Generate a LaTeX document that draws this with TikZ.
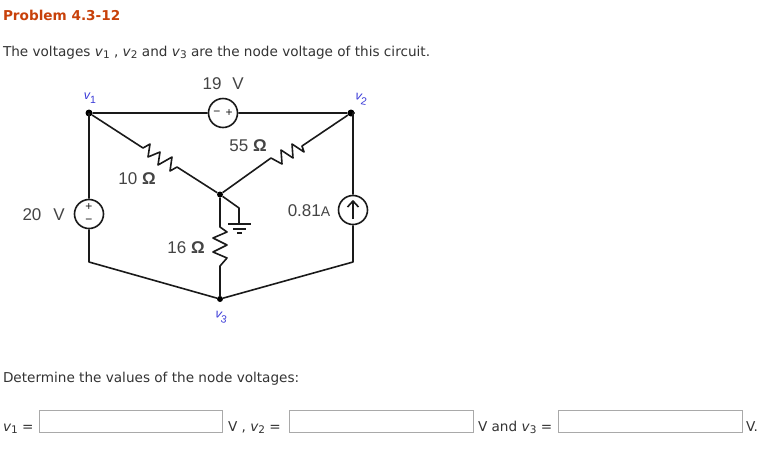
\documentclass[tikz,border=0pt]{standalone}
\usepackage{fontspec}
\setmainfont{DejaVu Sans}
\newfontfamily\lab{Liberation Sans}
\usetikzlibrary{calc}
\definecolor{wire}{HTML}{1A1A1A}
\definecolor{labgray}{HTML}{444444}
\definecolor{vblue}{HTML}{3A3AD8}
\definecolor{titlecol}{HTML}{C8410A}
\definecolor{boxgray}{HTML}{A9A9A9}
\definecolor{txt}{HTML}{333333}
\newcommand{\vv}[1]{\textit{v}\raisebox{-2.5pt}{\fontsize{10.5}{12}\selectfont #1}}
\newcommand{\ohm}{\textbf{Ω}}
\tikzset{
  x=1pt,y=-1pt,
  txtn/.style={anchor=base west,inner sep=0,outer sep=0,text=txt,font=\fontsize{13.6}{15}\selectfont},
  titlen/.style={anchor=base west,inner sep=0,outer sep=0,text=titlecol,font=\fontsize{13.6}{15}\selectfont\bfseries},
  clab/.style={anchor=base,inner sep=0,outer sep=0,text=labgray,font=\lab\fontsize{17}{19}\selectfont},
  vlab/.style={anchor=center,inner sep=0,outer sep=0,text=vblue,font=\lab\fontsize{12.5}{14}\selectfont\itshape},
  wireline/.style={draw=wire,line width=1.6pt,line join=round},
  dotn/.style={circle,fill=black,inner sep=0,minimum size=7pt},
  srcn/.style={circle,draw=wire,line width=1.6pt,fill=white,inner sep=0,minimum size=29pt,text=wire},
  ansbox/.style={draw=boxgray,line width=.9pt,fill=white,anchor=north west,inner sep=0,minimum height=22pt},
  signn/.style={font=\lab\fontsize{12}{12}\selectfont,text=wire,inner sep=0},
}
\begin{document}
\begin{tikzpicture}
\useasboundingbox[fill=white] (0,0) rectangle (773,448);
% text
\node[titlen] (title) at (3,20) {Problem 4.3-12};
\node[txtn] (intro) at (3,56) {The voltages \vv{1} , \vv{2} and \vv{3} are the node voltage of this circuit.};
\node[txtn] (ask) at (3,382) {Determine the values of the node voltages:};
% nodes
\node[dotn] (v1) at (89,113) {};
\node[dotn] (v2) at (351,113) {};
\node[dotn,minimum size=6pt] (c) at (220,194.5) {};
\node[dotn,minimum size=6pt] (v3) at (220,299) {};
\coordinate (bl) at (89,262);
\coordinate (br) at (353,262);
\coordinate (tr) at (353,113);
\coordinate (tl) at (89,113);
\node[srcn] (s19) at (223,113) {};
\node[srcn] (s20) at (89,214) {};
\node[srcn] (s081) at (353,210) {};
% wires
\draw[wireline] (v1) -- (s19) -- (v2) -- (tr) -- (s081) -- (br) -- (v3);
\draw[wireline] (tl) -- (s20) -- (bl) -- (v3);
\draw[wireline] (v1) -- (143,148) -- (150,144) -- (148,157) -- (160,152) -- (158,165) -- (172,157) -- (170,171) -- (177,167) -- (c);
\draw[wireline] (c) -- (271,158) -- (282,164) -- (281,150) -- (293,158) -- (292,144) -- (304,152) -- (302,146) -- (v2);
\draw[wireline] (c) -- (220,227) -- (227,232) -- (213,238) -- (227,245) -- (213,252) -- (227,258) -- (220,266) -- (v3);
% ground
\coordinate (gt) at (239,208);
\coordinate (gb) at (239,224);
\draw[wireline] (c) -- (gt) -- (gb);
\draw[wireline] (228,224) -- (251,224);
\draw[wireline] (233,229) -- (246,229);
\draw[wireline] (237,233) -- (242,233);
% source interiors
\node[signn] (s19m) at (217,113) {−};
\node[signn] (s19p) at (229,113) {+};
\node[signn] (s20p) at (89,207.5) {+};
\node[signn] (s20m) at (89,221.5) {−};
\coordinate (aT) at (353,201);
\coordinate (aB) at (353,219);
\draw[wireline] (aB) -- (aT);
\draw[wireline] (347.5,207) -- (aT) -- (358.5,207);
% labels
\node[clab] (l19) at (212,89) {19};
\node[clab] (l19v) at (238,89) {V};
\node[clab] (l55) at (248,151) {55 \ohm};
\node[clab] (l10) at (137,184) {10 \ohm};
\node[clab] (l20) at (32,220) {20};
\node[clab] (l20v) at (59,220) {V};
\node[clab] (l081) at (309,216) {0.81\fontsize{14}{15}\selectfont A};
\node[clab] (l16) at (186,253) {16 \ohm};
\node[vlab] (n1) at (90,98) {v\raisebox{-4pt}{\upshape\fontsize{10.5}{11}\selectfont 1}};
\node[vlab,rotate=-10] (n2) at (361,99) {v\raisebox{-4pt}{\upshape\fontsize{10.5}{11}\selectfont 2}};
\node[vlab,rotate=-10] (n3) at (221,317) {v\raisebox{-4pt}{\upshape\fontsize{10.5}{11}\selectfont 3}};
% answers
\node[txtn] (a1) at (3,431) {\vv{1} =};
\node[ansbox,minimum width=183pt] (b1) at (39,410) {};
\node[txtn] (a2) at (228,431) {V , \vv{2} =};
\node[ansbox,minimum width=184pt] (b2) at (289,410) {};
\node[txtn] (a3) at (478,431) {V and \vv{3} =};
\node[ansbox,minimum width=184pt] (b3) at (558,410) {};
\node[txtn] (a4) at (746,431) {V.};
\end{tikzpicture}
\end{document}
